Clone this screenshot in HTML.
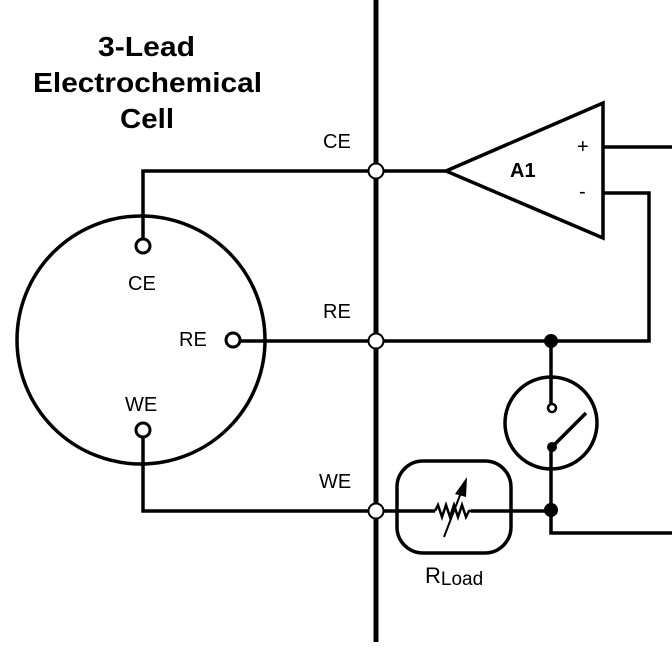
<!DOCTYPE html>
<html><head><meta charset="utf-8"><style>html,body{margin:0;padding:0;background:#fff}svg{display:block}</style></head>
<body>
<svg width="672" height="656" viewBox="0 0 672 656" xmlns="http://www.w3.org/2000/svg" font-family="Liberation Sans, Arial, sans-serif">
<g stroke="#000" stroke-width="3.5" fill="none">
<circle cx="141" cy="340" r="124"/>
<polyline points="143,246 143,171 369,171"/>
<line x1="233" y1="341" x2="369" y2="341"/>
<polyline points="143,430 143,511 369,511"/>
<polygon points="446,171 603,103 603,238" stroke-linejoin="miter"/>
<line x1="383" y1="171" x2="446" y2="171"/>
<line x1="603" y1="147" x2="672" y2="147"/>
<polyline points="603,193 649,193 649,341 383,341"/>
<line x1="551" y1="341" x2="551" y2="405"/>
<circle cx="551" cy="423" r="46"/>
<line x1="552" y1="447" x2="586" y2="413"/>
<polyline points="551,447 551,533 672,533"/>
<line x1="383" y1="511" x2="551" y2="511"/>
<rect x="397" y="461" width="114" height="92" rx="26" fill="#fff"/>
<line x1="397" y1="511" x2="435" y2="511"/>
<line x1="471" y1="511" x2="511" y2="511"/>
<polyline points="435,511 438,505 442,517 446,505 450,517 454,505 458,517 462,505 466,517 469,511 471,511" stroke-width="2.5"/>
<line x1="444" y1="537" x2="462" y2="490" stroke-width="2"/>
</g>
<polygon points="467,477 455,494 466,497" fill="#000"/>
<line x1="376" y1="0" x2="376" y2="642" stroke="#000" stroke-width="5"/>
<g stroke="#000" stroke-width="2" fill="#fff">
<circle cx="376" cy="171" r="7.5"/>
<circle cx="376" cy="341" r="7.5"/>
<circle cx="376" cy="511" r="7.5"/>
</g>
<g stroke="#000" stroke-width="3" fill="#fff">
<circle cx="143" cy="246" r="7"/>
<circle cx="233" cy="340" r="7"/>
<circle cx="143" cy="430" r="7"/>
</g>
<circle cx="552" cy="408" r="4" fill="#fff" stroke="#000" stroke-width="2.5"/>
<circle cx="552" cy="447" r="5" fill="#000"/>
<circle cx="551" cy="341" r="7" fill="#000"/>
<circle cx="551" cy="510" r="7" fill="#000"/>
<g font-size="28" font-weight="bold" fill="#000">
<text x="98" y="56" textLength="97" lengthAdjust="spacingAndGlyphs">3-Lead</text>
<text x="33" y="92" textLength="229" lengthAdjust="spacingAndGlyphs">Electrochemical</text>
<text x="120" y="128" textLength="54" lengthAdjust="spacingAndGlyphs">Cell</text>
</g>
<g font-size="20" fill="#000">
<text x="323" y="148">CE</text>
<text x="323" y="318">RE</text>
<text x="319" y="488">WE</text>
<text x="128" y="290">CE</text>
<text x="179" y="346">RE</text>
<text x="125" y="411">WE</text>
<text x="510" y="177" font-weight="bold">A1</text>
<text x="577" y="153">+</text>
<text x="579" y="198">-</text>
<text x="425" y="583" font-size="22">R<tspan font-size="19" dy="2">Load</tspan></text>
</g>
</svg>
</body></html>
